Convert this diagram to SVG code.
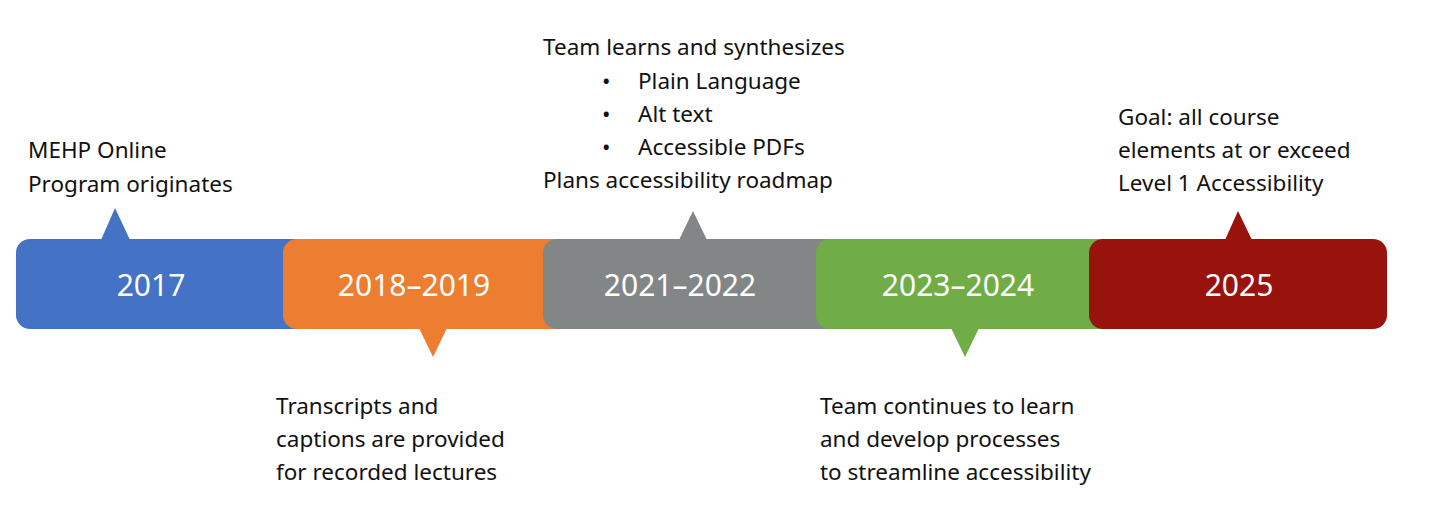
<svg xmlns="http://www.w3.org/2000/svg" width="1430" height="530" viewBox="0 0 1430 530">
<style>
.y{font-family:"Noto Sans","Liberation Sans",sans-serif;font-size:30px;fill:#fff;text-anchor:middle}
.t{font-family:"Noto Sans","Liberation Sans",sans-serif;font-size:22.5px;fill:#111}
</style>
<rect width="1430" height="530" fill="#fff"/>
<g id="n2017"><path d="M101 240 L115 208 L130 240 Z" fill="#4472C4"/><rect x="16" y="239" width="300" height="90" rx="14" fill="#4472C4"/><text class="y" x="151" y="296">2017</text></g>
<g id="n2018"><path d="M419 328 L433 357 L447 328 Z" fill="#ED7D31"/><rect x="283" y="239" width="290" height="90" rx="14" fill="#ED7D31"/><text class="y" x="414" y="296">2018–2019</text></g>
<g id="n2021"><path d="M679 240 L693 211 L707 240 Z" fill="#838686"/><rect x="543" y="239" width="300" height="90" rx="14" fill="#838686"/><text class="y" x="680" y="296">2021–2022</text></g>
<g id="n2023"><path d="M951 328 L965 357 L979 328 Z" fill="#70AD47"/><rect x="816" y="239" width="300" height="90" rx="14" fill="#70AD47"/><text class="y" x="958" y="296">2023–2024</text></g>
<g id="n2025"><path d="M1225 240 L1238 211 L1252 240 Z" fill="#99130D"/><rect x="1089" y="239" width="298" height="90" rx="14" fill="#99130D"/><text class="y" x="1239" y="296">2025</text></g>
<g id="labels">
<text class="t" x="28" y="158">MEHP Online</text>
<text class="t" x="28" y="192">Program originates</text>
<text class="t" x="543" y="55">Team learns and synthesizes</text>
<text class="t" x="602" y="89">•</text><text class="t" x="638" y="89">Plain Language</text>
<text class="t" x="602" y="122">•</text><text class="t" x="638" y="122">Alt text</text>
<text class="t" x="602" y="155">•</text><text class="t" x="638" y="155">Accessible PDFs</text>
<text class="t" x="543" y="188">Plans accessibility roadmap</text>
<text class="t" x="1118" y="125">Goal: all course</text>
<text class="t" x="1118" y="158">elements at or exceed</text>
<text class="t" x="1118" y="191">Level 1 Accessibility</text>
<text class="t" x="276" y="414">Transcripts and</text>
<text class="t" x="276" y="447">captions are provided</text>
<text class="t" x="276" y="480">for recorded lectures</text>
<text class="t" x="820" y="414">Team continues to learn</text>
<text class="t" x="820" y="447">and develop processes</text>
<text class="t" x="820" y="480">to streamline accessibility</text>
</g>
<g id="connectors"></g>
</svg>
